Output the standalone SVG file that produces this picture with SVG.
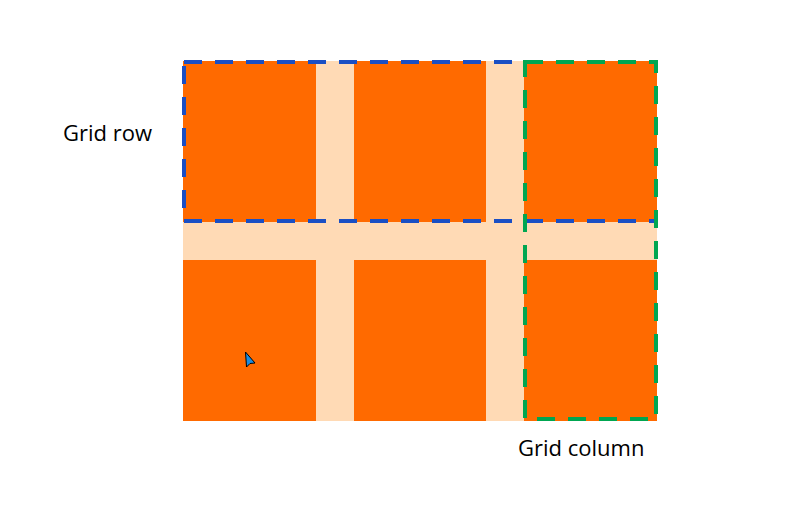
<svg xmlns="http://www.w3.org/2000/svg" width="799" height="522" viewBox="0 0 799 522">
<style>
.cell{fill:#ff6a00}
.lbl{font-family:"Open Sans","Liberation Sans",sans-serif;font-size:22px;fill:#000}
.dash{fill:none;stroke-width:4;stroke-dasharray:18 13}
</style>
<rect width="799" height="522" fill="#fff"/>
<g id="grid">
<rect x="183" y="61" width="474" height="360" fill="#ffdab5"/>
<rect class="cell" x="183" y="61" width="133" height="161"/>
<rect class="cell" x="354" y="61" width="132" height="161"/>
<rect class="cell" x="524" y="61" width="133" height="161"/>
<rect class="cell" x="183" y="260" width="133" height="161"/>
<rect class="cell" x="354" y="260" width="132" height="161"/>
<rect class="cell" x="524" y="260" width="133" height="161"/>
</g>
<g id="row"><rect class="dash" x="184" y="62" width="472" height="159" stroke="#1a4fc4"/></g>
<g id="column"><rect class="dash" x="525" y="62" width="131" height="357" stroke="#00a651"/></g>
<g id="cursor"><polygon points="245.5,352 255,363 250,363.5 246.5,367" fill="#1a8ce0" stroke="#000" stroke-width="1"/></g>
<text class="lbl" x="63" y="141">Grid row</text>
<text class="lbl" x="518" y="456">Grid column</text>
</svg>
